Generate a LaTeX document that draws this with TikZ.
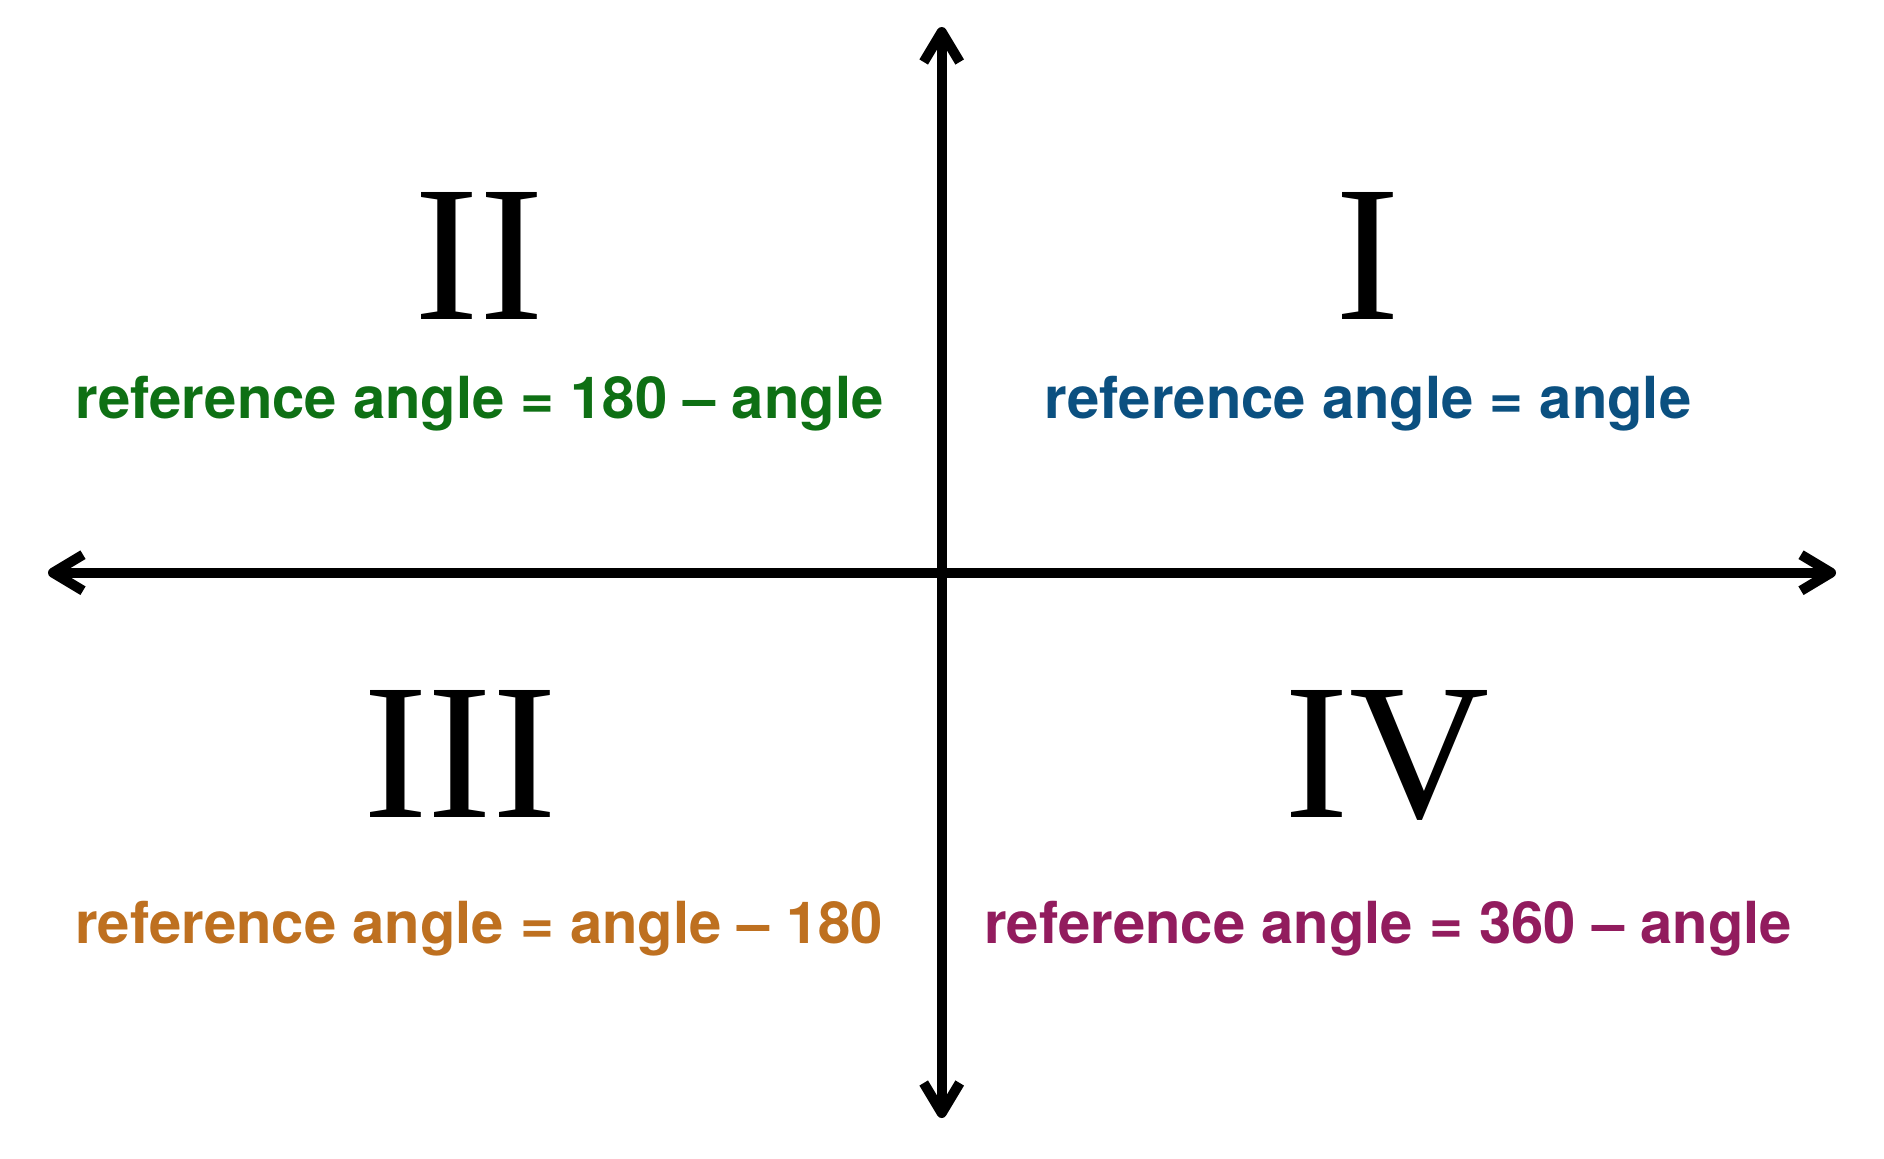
\documentclass[tikz,border=0pt]{standalone}
\usepackage{fontspec}
\setmainfont{Liberation Serif}
\newfontfamily\labelfont{TeX Gyre Heros}
\usetikzlibrary{arrows.meta}
\definecolor{qone}{RGB}{11,80,128}
\definecolor{qtwo}{RGB}{14,112,20}
\definecolor{qthree}{RGB}{190,112,32}
\definecolor{qfour}{RGB}{146,28,94}
\tikzset{
  axisline/.style={line width=5pt, black, line join=round,
    {Straight Barb[length=15pt,width=18pt,line join=round]}-{Straight Barb[length=15pt,width=18pt,line join=round]}},
  numeral/.style={anchor=base, inner sep=0pt, font=\fontsize{97}{100}\selectfont},
  formula/.style={anchor=base, inner sep=0pt, font=\labelfont\bfseries\fontsize{29}{32}\selectfont}
}
\begin{document}
\begin{tikzpicture}[x=0.5pt,y=-0.5pt]
\useasboundingbox (0,0) rectangle (1884,1158);
\coordinate (L) at (48,572.7);
\coordinate (R) at (1836,572.7);
\coordinate (T) at (941.7,27);
\coordinate (B) at (941.7,1118);
\draw[axisline] (L) -- (R);
\draw[axisline] (B) -- (T);
\node[numeral] (n1) at (1368,319) {I};
\node[numeral] (n2) at (479,319) {II};
\node[numeral] (n3) at (460,817) {III};
\node[numeral] (n4) at (1387,817) {IV};
\node[formula, text=qone] (f1) at (1368,418) {reference angle = angle};
\node[formula, text=qtwo] (f2) at (479.5,418) {reference angle = 180 – angle};
\node[formula, text=qthree] (f3) at (479,943) {reference angle = angle – 180};
\node[formula, text=qfour] (f4) at (1388,943) {reference angle = 360 – angle};
\end{tikzpicture}
\end{document}
